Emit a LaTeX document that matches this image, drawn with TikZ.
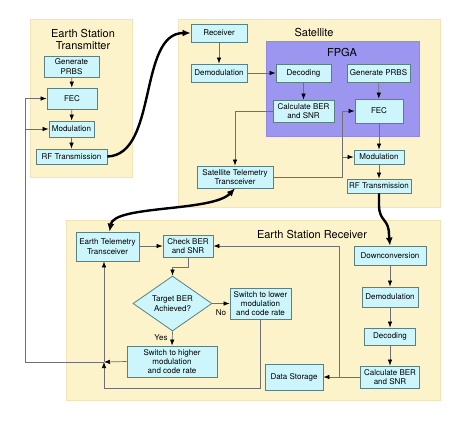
\documentclass[tikz,border=0pt]{standalone}
\usepackage{fontspec}
\setmainfont{TeX Gyre Heros}
\usetikzlibrary{arrows.meta,shapes.geometric,calc}
\definecolor{panelfill}{HTML}{FCF3CB}
\definecolor{paneldraw}{HTML}{F0E5B8}
\definecolor{boxfill}{HTML}{CCF6FC}
\definecolor{boxdraw}{HTML}{5C8080}
\definecolor{fpgafill}{HTML}{9C96F0}
\definecolor{fpgadraw}{HTML}{8E88E6}
\definecolor{linecol}{HTML}{707070}
\tikzset{
  panel/.style={fill=panelfill,draw=paneldraw,line width=0.8pt},
  box/.style={draw=boxdraw,fill=boxfill,line width=0.8pt,inner sep=0pt,align=center,
    font=\fontsize{8}{9.3}\selectfont},
  title/.style={font=\fontsize{11}{12.5}\selectfont,align=center,inner sep=0pt},
  lbl/.style={font=\fontsize{8}{9.3}\selectfont,inner sep=0pt},
  arr/.style={draw=linecol,line width=0.7pt,-{Latex[length=6pt,width=4.5pt,color=black]}},
  ln/.style={draw=linecol,line width=0.7pt},
  thick arr/.style={draw=black,line width=2.4pt,-{Latex[length=8pt,width=7pt]}},
}
\begin{document}
\begin{tikzpicture}[x=1pt,y=-1pt]
\useasboundingbox[fill=white] (0,0) rectangle (474,424);
% panels
\draw[panel] (30,19) rectangle (132,177);
\draw[panel] (178,19) rectangle (440,207);
\draw[panel] (66,220) rectangle (440,400);
\draw[fill=fpgafill,draw=fpgadraw,line width=0.8pt] (266,41) rectangle (419,136);
% titles
\node[title] (ttx) at (83,39.5) {Earth Station\\Transmitter};
\node[title] (tsat) at (314,32) {Satellite};
\node[title] (tfpga) at (342,52) {FPGA};
\node[title] (trx) at (312,234) {Earth Station Receiver};
% ground transmitter
\node[box,minimum width=55pt,minimum height=21pt] (gprbs) at (71.5,66.5) {Generate\\PRBS};
\node[box,minimum width=50pt,minimum height=21pt] (gfec) at (72,98.5) {FEC};
\node[box,minimum width=45pt,minimum height=16pt] (gmod) at (71.5,129) {Modulation};
\node[box,minimum width=71pt,minimum height=15pt] (grf) at (71.5,156.5) {RF Transmission};
% satellite
\node[box,minimum width=56pt,minimum height=18pt] (srx) at (219,33) {Receiver};
\node[box,minimum width=56pt,minimum height=18pt] (sdem) at (219,73) {Demodulation};
\node[box,minimum width=55pt,minimum height=18pt] (sdec) at (303.5,73) {Decoding};
\node[box,minimum width=63pt,minimum height=18pt] (sprbs) at (378.5,73) {Generate PRBS};
\node[box,minimum width=61pt,minimum height=22pt] (scalc) at (303.5,111) {Calculate BER\\and SNR};
\node[box,minimum width=48pt,minimum height=24pt] (sfec) at (379,111) {FEC};
\node[box,minimum width=50pt,minimum height=14pt] (smod) at (379,157) {Modulation};
\node[box,minimum width=64pt,minimum height=14pt] (srf) at (379,186) {RF Transmission};
\node[box,minimum width=76pt,minimum height=22pt] (stel) at (235,177) {Satellite Telemetry\\Transceiver};
% receiver
\node[box,minimum width=63pt,minimum height=29pt] (etel) at (107.5,246.5) {Earth Telemetry\\Transceiver};
\node[box,minimum width=50pt,minimum height=22pt] (chk) at (188,246) {Check BER\\and SNR};
\node[box,diamond,aspect=1.44,minimum width=79pt,minimum height=55pt] (dia) at (172.5,303.5) {Target BER\\Achieved?};
\node[box,minimum width=61pt,minimum height=31pt] (slow) at (260.5,303.5) {Switch to lower\\modulation\\and code rate};
\node[box,minimum width=90pt,minimum height=31pt] (shigh) at (172,361.5) {Switch to higher\\modulation\\and code rate};
\node[box,minimum width=72pt,minimum height=19pt] (down) at (390,255.5) {Downconversion};
\node[box,minimum width=56pt,minimum height=20pt] (rdem) at (390,297) {Demodulation};
\node[box,minimum width=51pt,minimum height=17pt] (rdec) at (390,336.5) {Decoding};
\node[box,minimum width=59pt,minimum height=22pt] (rcalc) at (390,377) {Calculate BER\\and SNR};
\node[box,minimum width=58pt,minimum height=26pt] (store) at (294,377) {Data Storage};
% ground transmitter connectors
\draw[arr] (gprbs) -- (gfec);
\draw[arr] (gfec) -- (gmod);
\draw[arr] (gmod) -- (grf);
\coordinate (fbj) at (104,362);
\coordinate (fbl) at (25,362);
\coordinate (fbm) at (25,129);
\draw[arr] (fbj) -- (fbl) |- (gfec.west);
\draw[arr] (fbm) -- (gmod.west);
% satellite connectors
\draw[arr] (srx) -- (sdem);
\draw[arr] (sdem) -- (sdec);
\draw[arr] (sdec) -- (scalc);
\draw[arr] (sprbs) -- (sfec);
\draw[arr] (sfec) -- (smod);
\draw[arr] (smod) -- (srf);
\draw[arr] (scalc.west) -| (stel.north);
\coordinate (sj) at (342,177);
\draw[arr] (stel.east) -- (sj) |- (sfec.west);
\draw[arr] (sj |- smod.west) -- (smod.west);
% receiver connectors
\draw[arr] (etel.east |- chk.west) -- (chk.west);
\coordinate (cj) at (188,267);
\draw[arr] (chk.south) -- (cj) -| (dia.north);
\draw[arr] (dia.east) -- (slow.west);
\node[lbl] (no) at (221,313) {No};
\draw[arr] (dia.south) -- (shigh.north);
\node[lbl] (yes) at (161,338) {Yes};
\draw[arr] (shigh.west) -- (fbj);
\coordinate (lb) at (104,388);
\draw[arr] (slow.south) |- (lb) -- (fbj);
\draw[arr] (fbj) -- (fbj |- etel.south);
\draw[arr] (down) -- (rdem);
\draw[arr] (rdem) -- (rdec);
\draw[arr] (rdec) -- (rcalc);
\draw[arr] (rcalc.west) -- (store.east);
\coordinate (rj) at (339,377);
\draw[arr] (rj) |- (chk.east);
% thick links
\draw[thick arr] (grf.east) .. controls (158,155) and (138,33) .. (srx.west);
\draw[thick arr] (srf.south) -- (379,205) .. controls (379,222) and (389,218) .. (389,235) -- (down.north);
\draw[draw=black,line width=2.4pt,{Latex[length=8pt,width=7pt]}-{Latex[length=8pt,width=7pt]}]
  ([xshift=2pt]etel.north) .. controls (114,205) and (212,212) .. (stel.south);
\end{tikzpicture}
\end{document}
